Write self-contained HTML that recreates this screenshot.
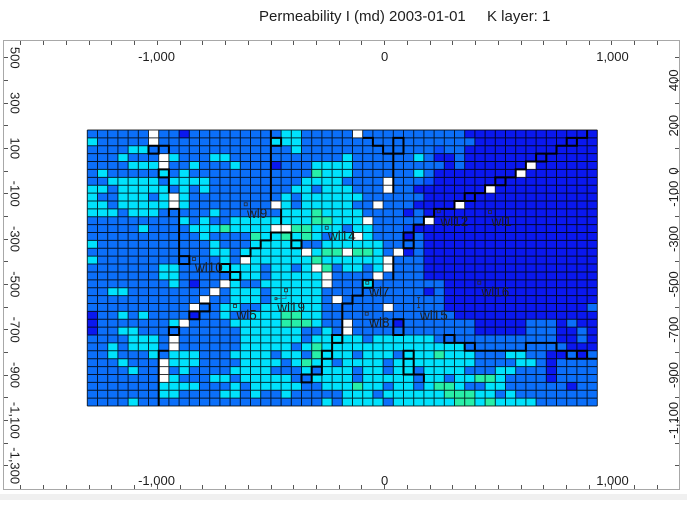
<!DOCTYPE html>
<html><head><meta charset="utf-8"><style>
html,body{margin:0;padding:0;background:#fff;}
body{width:687px;height:500px;overflow:hidden;}
svg text{font-family:"Liberation Sans",Arial,sans-serif;fill:#1e1e1e;}
</style></head><body>
<svg width="687" height="500" viewBox="0 0 687 500" xmlns="http://www.w3.org/2000/svg">
<rect x="0" y="0" width="687" height="500" fill="#fff"/>
<rect x="0" y="494" width="687" height="6" fill="#f0f0f0"/>
<text x="259" y="21" font-size="15">Permeability I (md) 2003-01-01</text>
<text x="487" y="21" font-size="15">K layer: 1</text>
<rect x="3.5" y="40.5" width="676" height="449" fill="none" stroke="#a8a8a8" stroke-width="1"/>
<path fill="none" stroke="#555" stroke-width="1" d="M20.5 41v4M43.5 41v4M66.5 41v4M89.5 41v4M111.5 41v4M134.5 41v4M157.5 41v4M180.5 41v4M202.5 41v4M225.5 41v4M248.5 41v4M271.5 41v4M293.5 41v4M316.5 41v4M339.5 41v4M361.5 41v4M384.5 41v4M407.5 41v4M430.5 41v4M452.5 41v4M475.5 41v4M498.5 41v4M521.5 41v4M543.5 41v4M566.5 41v4M589.5 41v4M611.5 41v4M634.5 41v4M657.5 41v4
M20.5 489v-4M43.5 489v-4M66.5 489v-4M89.5 489v-4M111.5 489v-4M134.5 489v-4M157.5 489v-4M180.5 489v-4M202.5 489v-4M225.5 489v-4M248.5 489v-4M271.5 489v-4M293.5 489v-4M316.5 489v-4M339.5 489v-4M361.5 489v-4M384.5 489v-4M407.5 489v-4M430.5 489v-4M452.5 489v-4M475.5 489v-4M498.5 489v-4M521.5 489v-4M543.5 489v-4M566.5 489v-4M589.5 489v-4M611.5 489v-4M634.5 489v-4M657.5 489v-4
M4 57.5h4M4 80.5h4M4 103.5h4M4 125.5h4M4 148.5h4M4 171.5h4M4 193.5h4M4 216.5h4M4 239.5h4M4 261.5h4M4 284.5h4M4 307.5h4M4 329.5h4M4 352.5h4M4 375.5h4M4 397.5h4M4 420.5h4M4 443.5h4M4 465.5h4
M679 57.5h-4M679 80.5h-4M679 103.5h-4M679 125.5h-4M679 148.5h-4M679 171.5h-4M679 193.5h-4M679 216.5h-4M679 239.5h-4M679 261.5h-4M679 284.5h-4M679 307.5h-4M679 329.5h-4M679 352.5h-4M679 375.5h-4M679 397.5h-4M679 420.5h-4M679 443.5h-4M679 465.5h-4"/>
<g font-size="13" text-anchor="middle">
<text x="156.5" y="61">-1,000</text><text x="384.6" y="61">0</text><text x="612.5" y="61">1,000</text>
<text x="156.5" y="485">-1,000</text><text x="384.6" y="485">0</text><text x="612.5" y="485">1,000</text>
</g>
<g font-size="13" text-anchor="middle" dominant-baseline="central">
<text transform="translate(15,57.7) rotate(90)">500</text>
<text transform="translate(15,103) rotate(90)">300</text>
<text transform="translate(15,148.3) rotate(90)">100</text>
<text transform="translate(15,193.7) rotate(90)">-100</text>
<text transform="translate(15,239) rotate(90)">-300</text>
<text transform="translate(15,284.3) rotate(90)">-500</text>
<text transform="translate(15,329.7) rotate(90)">-700</text>
<text transform="translate(15,375) rotate(90)">-900</text>
<text transform="translate(15,420.3) rotate(90)">-1,100</text>
<text transform="translate(15,465.7) rotate(90)">-1,300</text>
<text transform="translate(673.7,80.3) rotate(-90)">400</text>
<text transform="translate(673.7,125.7) rotate(-90)">200</text>
<text transform="translate(673.7,171) rotate(-90)">0</text>
<text transform="translate(673.7,193.7) rotate(-90)">-100</text>
<text transform="translate(673.7,239) rotate(-90)">-300</text>
<text transform="translate(673.7,284.3) rotate(-90)">-500</text>
<text transform="translate(673.7,329.7) rotate(-90)">-700</text>
<text transform="translate(673.7,375) rotate(-90)">-900</text>
<text transform="translate(673.7,420.3) rotate(-90)">-1,100</text>
</g>
<g transform="translate(87.3,130) scale(10.2,7.886)">
<rect x="0" y="0" width="50" height="35" fill="#0b6ffa"/>
<path fill="#00e2fd" d="M19 0h2v1h-2zM0 1h1v1h-1zM18 1h3v1h-3zM4 2h2v1h-2zM20 2h1v1h-1zM3 3h1v1h-1zM8 3h1v1h-1zM12 3h2v1h-2zM25 3h1v1h-1zM32 3h1v1h-1zM4 4h3v1h-3zM10 4h1v1h-1zM14 4h1v1h-1zM22 4h4v1h-4zM1 5h1v1h-1zM7 5h1v1h-1zM9 5h1v1h-1zM23 5h3v1h-3zM32 5h1v1h-1zM2 6h5v1h-5zM8 6h4v1h-4zM21 6h4v1h-4zM0 7h2v1h-2zM3 7h5v1h-5zM9 7h1v1h-1zM11 7h1v1h-1zM20 7h2v1h-2zM23 7h3v1h-3zM0 8h1v1h-1zM3 8h3v1h-3zM7 8h1v1h-1zM9 8h1v1h-1zM19 8h1v1h-1zM21 8h6v1h-6zM0 9h2v1h-2zM3 9h5v1h-5zM9 9h1v1h-1zM19 9h1v1h-1zM21 9h5v1h-5zM0 10h3v1h-3zM4 10h3v1h-3zM12 10h1v1h-1zM19 10h3v1h-3zM23 10h4v1h-4zM9 11h1v1h-1zM11 11h1v1h-1zM14 11h8v1h-8zM24 11h3v1h-3zM5 12h1v1h-1zM10 12h3v1h-3zM14 12h4v1h-4zM22 12h3v1h-3zM26 12h2v1h-2zM11 13h1v1h-1zM17 13h2v1h-2zM20 13h1v1h-1zM22 13h1v1h-1zM24 13h2v1h-2zM27 13h1v1h-1zM0 14h1v1h-1zM12 14h1v1h-1zM16 14h5v1h-5zM23 14h6v1h-6zM12 15h2v1h-2zM15 15h6v1h-6zM22 15h1v1h-1zM28 15h1v1h-1zM0 16h1v1h-1zM13 16h1v1h-1zM16 16h6v1h-6zM23 16h6v1h-6zM7 17h2v1h-2zM13 17h4v1h-4zM18 17h2v1h-2zM21 17h1v1h-1zM25 17h2v1h-2zM28 17h1v1h-1zM7 18h2v1h-2zM14 18h3v1h-3zM18 18h5v1h-5zM8 19h1v1h-1zM14 19h1v1h-1zM17 19h6v1h-6zM27 19h1v1h-1zM2 20h2v1h-2zM14 20h3v1h-3zM18 20h5v1h-5zM14 21h3v1h-3zM18 21h5v1h-5zM13 22h2v1h-2zM17 22h6v1h-6zM3 23h1v1h-1zM5 23h1v1h-1zM13 23h1v1h-1zM16 23h3v1h-3zM21 23h2v1h-2zM8 24h1v1h-1zM14 24h5v1h-5zM22 24h1v1h-1zM3 25h2v1h-2zM15 25h6v1h-6zM23 25h1v1h-1zM4 26h3v1h-3zM15 26h6v1h-6zM22 26h5v1h-5zM28 26h6v1h-6zM2 27h1v1h-1zM4 27h3v1h-3zM15 27h5v1h-5zM21 27h1v1h-1zM23 27h14v1h-14zM2 28h1v1h-1zM6 28h1v1h-1zM8 28h3v1h-3zM14 28h4v1h-4zM19 28h2v1h-2zM23 28h3v1h-3zM27 28h3v1h-3zM31 28h3v1h-3zM35 28h3v1h-3zM41 28h2v1h-2zM3 29h1v1h-1zM8 29h3v1h-3zM15 29h4v1h-4zM20 29h1v1h-1zM22 29h2v1h-2zM25 29h4v1h-4zM30 29h8v1h-8zM42 29h2v1h-2zM4 30h1v1h-1zM9 30h1v1h-1zM14 30h4v1h-4zM21 30h1v1h-1zM23 30h3v1h-3zM27 30h2v1h-2zM30 30h2v1h-2zM33 30h4v1h-4zM40 30h2v1h-2zM8 31h1v1h-1zM12 31h2v1h-2zM15 31h5v1h-5zM22 31h4v1h-4zM27 31h5v1h-5zM33 31h2v1h-2zM36 31h2v1h-2zM40 31h1v1h-1zM7 32h4v1h-4zM14 32h1v1h-1zM16 32h5v1h-5zM23 32h3v1h-3zM27 32h2v1h-2zM30 32h2v1h-2zM33 32h1v1h-1zM36 32h1v1h-1zM39 32h2v1h-2zM7 33h2v1h-2zM13 33h2v1h-2zM16 33h1v1h-1zM19 33h1v1h-1zM25 33h3v1h-3zM29 33h6v1h-6zM38 33h2v1h-2zM41 33h1v1h-1zM4 34h1v1h-1zM23 34h1v1h-1zM25 34h4v1h-4zM30 34h6v1h-6zM38 34h1v1h-1zM40 34h4v1h-4z"/>
<path fill="#0a18ef" d="M9 0h1v1h-1zM37 0h13v1h-13zM38 1h12v1h-12zM37 2h13v1h-13zM34 3h2v1h-2zM37 3h13v1h-13zM18 4h1v1h-1zM35 4h1v1h-1zM37 4h6v1h-6zM44 4h6v1h-6zM34 5h8v1h-8zM43 5h7v1h-7zM34 6h16v1h-16zM32 7h7v1h-7zM40 7h10v1h-10zM33 8h17v1h-17zM32 9h4v1h-4zM37 9h13v1h-13zM31 10h1v1h-1zM33 10h17v1h-17zM34 11h16v1h-16zM32 12h18v1h-18zM31 13h1v1h-1zM33 13h17v1h-17zM33 14h17v1h-17zM31 15h1v1h-1zM33 15h17v1h-17zM33 16h17v3h-17zM10 19h1v1h-1zM35 19h15v1h-15zM33 20h1v1h-1zM35 20h15v1h-15zM35 21h15v1h-15zM35 22h14v1h-14zM0 23h1v1h-1zM10 23h1v1h-1zM36 23h14v1h-14zM0 24h1v1h-1zM30 24h1v1h-1zM38 24h5v1h-5zM46 24h1v1h-1zM48 24h2v1h-2zM0 25h1v1h-1zM38 25h5v1h-5zM46 25h2v1h-2zM49 25h1v1h-1zM46 26h2v1h-2zM49 26h1v1h-1zM47 27h3v1h-3zM45 28h2v1h-2zM48 28h1v1h-1zM45 29h1v3h-1zM47 32h1v1h-1z"/>
<path fill="#0850ff" d="M34 2h1v1h-1zM33 6h1v1h-1zM31 12h1v1h-1z"/>
<path fill="#27efa8" d="M22 5h1v1h-1zM22 10h1v1h-1zM22 11h2v1h-2zM13 12h1v1h-1zM20 12h2v1h-2zM16 13h1v1h-1zM19 13h1v1h-1zM21 13h1v1h-1zM23 15h2v1h-2zM26 15h2v1h-2zM22 16h1v1h-1zM23 17h1v1h-1zM19 23h2v1h-2zM19 24h3v1h-3zM22 27h1v2h-1zM34 28h1v1h-1zM21 29h1v1h-1zM38 31h2v1h-2zM26 32h1v1h-1zM34 32h2v1h-2zM35 33h3v1h-3zM36 34h2v1h-2zM39 34h1v1h-1z"/>
<path fill="#ffffff" d="M6 0h1v2h-1zM26 0h1v1h-1zM7 3h1v2h-1zM43 4h1v1h-1zM42 5h1v1h-1zM29 6h1v2h-1zM39 7h1v1h-1zM8 8h1v2h-1zM18 9h1v1h-1zM28 9h1v1h-1zM36 9h1v1h-1zM27 11h1v1h-1zM33 11h1v1h-1zM18 12h2v1h-2zM26 13h1v1h-1zM21 15h1v1h-1zM25 15h1v1h-1zM30 15h1v1h-1zM15 16h1v1h-1zM29 16h1v2h-1zM22 17h1v1h-1zM23 18h1v2h-1zM28 18h1v1h-1zM13 19h1v1h-1zM12 20h1v1h-1zM11 21h1v1h-1zM24 21h1v1h-1zM10 22h1v1h-1zM29 22h1v1h-1zM9 24h1v1h-1zM25 24h1v2h-1zM8 26h1v2h-1zM7 29h1v3h-1z"/>
<path fill="none" stroke="#000" stroke-opacity="0.8" stroke-width="1" vector-effect="non-scaling-stroke" d="M0 0V35M1 0V35M2 0V35M3 0V35M4 0V35M5 0V35M6 0V35M7 0V35M8 0V35M9 0V35M10 0V35M11 0V35M12 0V35M13 0V35M14 0V35M15 0V35M16 0V35M17 0V35M18 0V35M19 0V35M20 0V35M21 0V35M22 0V35M23 0V35M24 0V35M25 0V35M26 0V35M27 0V35M28 0V35M29 0V35M30 0V35M31 0V35M32 0V35M33 0V35M34 0V35M35 0V35M36 0V35M37 0V35M38 0V35M39 0V35M40 0V35M41 0V35M42 0V35M43 0V35M44 0V35M45 0V35M46 0V35M47 0V35M48 0V35M49 0V35M50 0V35M0 0H50M0 1H50M0 2H50M0 3H50M0 4H50M0 5H50M0 6H50M0 7H50M0 8H50M0 9H50M0 10H50M0 11H50M0 12H50M0 13H50M0 14H50M0 15H50M0 16H50M0 17H50M0 18H50M0 19H50M0 20H50M0 21H50M0 22H50M0 23H50M0 24H50M0 25H50M0 26H50M0 27H50M0 28H50M0 29H50M0 30H50M0 31H50M0 32H50M0 33H50M0 34H50M0 35H50"/>
<path fill="none" stroke="#000" stroke-width="2" vector-effect="non-scaling-stroke" d="M6 2h1v1h-1zM7 2H8V3M7 5h1v1h-1zM8 6V8M8 11V10H9V16M9 16h1v1h-1zM13 17h1v1h-1zM14 18h1v1h-1zM15 16H16V15H17V14H18V13H20V15H21V14H20M18 0V9M18 1h1v1h-1zM19 10V12M27 1H28V2H29V3H31V1H30V8M49 0V1H47V2H46V3H44V4H43V5H42V6H40V7H39V8H37V9H36V10H34V11H33V12H32V15H31M44 3h1v1h-1zM47 1h1v1h-1zM40 6h1v1h-1zM37 8h1v1h-1zM31 13h1v2h-1zM31 14h1M27 19h1v1h-1zM27 20V21H26V22H25V26H24V28H23V30H22V31H21V32M24 26h1v1h-1zM23 28h1v1h-1zM22 30h1v1h-1zM21 31h1v1h-1zM11 22H12V23H11M10 23h1v1h-1zM8 25h1v1h-1zM8 28H7V35M35 26h1v1h-1zM36 27H37M37 27h1v1h-1zM38 28H43V27H46V28H47M47 28h2v1h-2zM48 28v1M49 29H50M30 16V19M30 24h1v2h-1zM31 28h1v1h-1zM31 29h1v2h-1zM32 31H33V32"/>
</g>
<g fill="none" stroke="#2a2a2a" stroke-width="0.8">
<rect x="244.2" y="202.8" width="3" height="3"/>
<rect x="325.2" y="226.2" width="3" height="3"/>
<rect x="192.5" y="257.5" width="3" height="3"/>
<rect x="437.2" y="209.8" width="3" height="3"/>
<rect x="488.5" y="210.5" width="3" height="3"/>
<rect x="365.8" y="281.2" width="3" height="3"/>
<rect x="365.2" y="312.2" width="3" height="3"/>
<rect x="477.8" y="281.2" width="3" height="3"/>
<rect x="233.5" y="304.5" width="3" height="3"/>
<rect x="284.5" y="288.8" width="3" height="3"/>
<path d="M418.7 297.7V307.7M417.3 297.7h2.8M417.3 307.7h2.8"/>
<path stroke="#3a5a7a" stroke-width="0.7" d="M276 298.7H286V291.8"/>
<rect x="275" y="297.7" width="2" height="2"/>
</g>
<g font-size="13.5">
<text x="247" y="218">wl9</text>
<text x="328" y="240.5">wl14</text>
<text x="195" y="272">wl10</text>
<text x="440.5" y="226">wl12</text>
<text x="491.5" y="226">wl1</text>
<text x="369.3" y="296.7">wl7</text>
<text x="369.3" y="327">wl8</text>
<text x="420" y="320">wl15</text>
<text x="481.5" y="296.7">wl16</text>
<text x="236.5" y="319.3">wl5</text>
<text x="277.3" y="312">wl19</text>
</g>
</svg>
</body></html>
